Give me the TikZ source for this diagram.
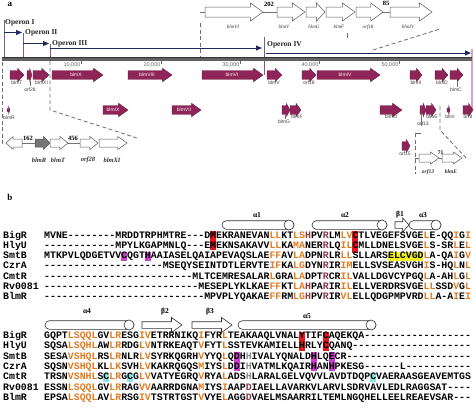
\documentclass[tikz,border=0pt]{standalone}
\usepackage{fontspec}
\setmainfont{Liberation Serif}
\setsansfont{Liberation Sans}
\setmonofont{Liberation Mono}
\usetikzlibrary{arrows.meta}
\definecolor{genepurple}{HTML}{8E2457}
\definecolor{operonblue}{HTML}{1C2A5E}
\definecolor{mauve}{HTML}{7C5C86}
\definecolor{lilac}{HTML}{CDA8CF}
\definecolor{zoomgray}{HTML}{6E6E6E}
\definecolor{cdsgray}{HTML}{767676}
\definecolor{resorange}{HTML}{E07B1F}
\definecolor{resmaroon}{HTML}{8B3A4A}
\definecolor{resgray}{HTML}{8A8A8A}
\definecolor{hlred}{HTML}{E5161C}
\definecolor{hlmag}{HTML}{D03CD0}
\definecolor{hlyellow}{HTML}{F2F222}
\definecolor{hlcyan}{HTML}{8AE6E6}

\newcommand{\seqfont}{\ttfamily\bfseries\fontsize{9.88}{10}\selectfont}
\newcommand{\rO}[1]{\textcolor{resorange}{#1}}
\newcommand{\rM}[1]{\textcolor{resmaroon}{#1}}
\newcommand{\rG}[1]{\textcolor{resgray}{#1}}
% gene arrow: [style] tail x, tip x, y, body half height, head half height
\newcommand{\genearrow}[6][]{%
  \pgfmathsetmacro{\gaNeck}{#3-(#3-#2)/abs(#3-#2)*min(abs(#3-#2)*0.45,1.4*#6)}%
  \draw[#1] (#2,#4-#5) -- (\gaNeck,#4-#5) -- (\gaNeck,#4-#6) -- (#3,#4)
    -- (\gaNeck,#4+#6) -- (\gaNeck,#4+#5) -- (#2,#4+#5) -- cycle;}
% highlight: colour, first column, last column, top baseline, bottom baseline
\newcommand{\hlcol}[5]{%
  \fill[#1] ({44+(#2-1)*5.929},{#4-7}) rectangle ({44+#3*5.929},{#5+2});}
% helix cylinder: x1, x2, y
\newcommand{\helix}[3]{%
  \draw[sstruct, rounded corners=4.3pt] (#1,#3-4.3) rectangle (#2,#3+4.3);
  \draw[sstruct] (#2-5,#3) circle[radius=5];}

\begin{document}
\begin{tikzpicture}[x=1pt, y=-1pt,
    gene/.style={fill=genepurple, draw=genepurple!70!black, line width=0.3pt},
    cds/.style={fill=white, draw=black!65, line width=0.5pt},
    cdsdark/.style={cds, fill=cdsgray},
    gname/.style={font=\sffamily\fontsize{5}{5}\selectfont, text=black!75, inner sep=0pt},
    ginside/.style={font=\sffamily\fontsize{5}{5}\selectfont, text=white, inner sep=0pt},
    cname/.style={font=\bfseries\itshape\fontsize{6.5}{6.5}\selectfont, text=black!80, inner sep=0pt},
    tname/.style={font=\itshape\fontsize{5}{5}\selectfont, text=black!80, inner sep=0pt},
    spacerlbl/.style={font=\bfseries\fontsize{6.5}{6.5}\selectfont, inner sep=0pt},
    opname/.style={font=\bfseries\fontsize{7.5}{7.5}\selectfont, text=black!85, anchor=west, inner sep=0pt},
    oparrow/.style={draw=operonblue, line width=0.9pt, -{Triangle[length=6pt,width=5pt]}},
    opline/.style={draw=mauve, line width=0.7pt},
    zoomline/.style={draw=zoomgray, line width=0.8pt, dash pattern=on 4pt off 2.5pt},
    linker/.style={draw=black!55, line width=0.4pt},
    ticklbl/.style={font=\sffamily\fontsize{5.5}{5.5}\selectfont, text=black!60, inner sep=0pt},
    seq/.style={anchor=base west, inner sep=0pt, font=\seqfont},
    sstruct/.style={draw=black!80, line width=0.6pt, fill=white},
    sslabel/.style={font=\bfseries\fontsize{7.5}{7.5}\selectfont, inner sep=0pt},
    panel/.style={font=\bfseries\fontsize{9}{9}\selectfont, inner sep=0pt},
]
\fill[white] (0,0) rectangle (474,410);
\useasboundingbox (0,0) rectangle (474,410);

\node[panel] (pa) at (10,4.5) {a};
\node[panel] (pb) at (10,197) {b};

% expanded cluster on top
\draw[linker] (200,12) -- (205,12);
\genearrow[cds]{205}{263}{12}{5}{9}
\draw[linker] (263,12) -- (277,12);
\genearrow[cds]{277}{305}{12}{5}{9}
\genearrow[cds]{306}{325}{12}{5}{9}
\genearrow[cds]{326}{355}{12}{5}{9}
\genearrow[cds]{356}{383}{12}{5}{9}
\draw[linker] (383,12) -- (390,12);
\genearrow[cds]{390}{432}{12}{5}{9}
\node[spacerlbl] (sp202) at (269,4) {202};
\node[spacerlbl] (sp85) at (386,3.5) {85};
\node[tname] (tVI) at (233,27) {blmVI};
\node[tname] (tV) at (284,27) {blmV};
\node[tname] (tG) at (314,27) {blmG};
\node[tname] (tF) at (339,27) {blmF};
\node[tname] (t18) at (368,27) {orf18};
\node[tname] (tIV) at (408,27) {blmIV};
\draw[linker] (347,33) -- (347,38);

% operons
\draw[opline] (4,20) -- (4,60);
\draw[opline] (23,33) -- (23,60);
\draw[opline] (50,44) -- (50,60);
\draw[opline] (264,37) -- (264,75);
\draw[oparrow] (4,32.5) -- (22,32.5);
\draw[oparrow] (23,43.5) -- (49,43.5);
\draw[oparrow] (50,48) -- (262,48);
\draw[oparrow] (266,53) -- (471,53);
\node[opname] (opI) at (5,22.5) {Operon I};
\node[opname] (opII) at (25,32.5) {Operon II};
\node[opname] (opIII) at (52,43.5) {Operon III};
\node[opname] (opIV) at (267,45) {Operon IV};
\draw[lilac, line width=2.5pt] (472,49) -- (472,111);

% zoom guides
\draw[zoomline] (200,23) -- (200,58);
\draw[zoomline] (373,50) -- (440,29);
\draw[zoomline] (2,62) -- (2,146);
\draw[zoomline] (50,61) -- (50,110) -- (137,138);
\draw[zoomline] (440,106) -- (440,130) -- (468,160);
\draw[black!60, line width=0.8pt] (421,133) -- (415,133);
\draw[zoomline] (415,133) -- (415,174);

% genome bar and scale
\draw[black!62, line width=3.6pt] (2,59) -- (472,59);
\draw[black!80, line width=0.8pt] (2,57.5) -- (472,57.5);
\foreach \xs/\lbl in {72/10,152/20,231/30,310/40,390/50} {
  \node[ticklbl] (k\lbl) at (\xs,64.5) {\lbl,000};
  \draw[black!60, line width=0.4pt] ([xshift=0.9pt,yshift=1pt]k\lbl.north east) -- ([xshift=0.9pt,yshift=-1.6pt]k\lbl.north east);
}

% genes, first row
\genearrow[gene]{10}{24}{75}{4.3}{6.7}
\genearrow[gene]{27}{32}{75}{4.3}{6.7}
\genearrow[gene]{33}{49}{75}{4.3}{6.7}
\genearrow[gene]{52}{103}{75}{4.3}{6.7}
\genearrow[gene]{128}{172}{75}{4.3}{6.7}
\genearrow[gene]{202}{263}{75}{4.3}{6.7}
\genearrow[gene]{267}{282}{75}{4.3}{6.7}
\genearrow[gene]{302}{316}{75}{4.3}{6.7}
\genearrow[gene]{317}{380}{75}{4.3}{6.7}
\genearrow[gene]{410}{422}{75}{4.3}{6.7}
\genearrow[gene]{435}{448}{75}{4.3}{6.7}
\genearrow[gene]{450}{463}{75}{4.3}{6.7}
\node[ginside] (iX) at (76,75) {blmX};
\node[ginside] (iVIII) at (147,75) {blmVIII};
\node[ginside] (iVI) at (232,75) {blmVI};
\node[ginside] (iIV) at (345,75) {blmIV};
\node[gname] (nT) at (17,83) {blmT};
\node[gname] (n28) at (30,89.5) {orf28};
\node[gname] (nXI) at (41.5,83) {blmXI};
\node[gname] (nV) at (274,83) {blmV};
\node[gname] (n18) at (309,83) {orf18};
\node[gname] (nII) at (416,83) {blmII};
\node[gname] (nD) at (442,83) {blmD};
\node[gname] (nC) at (456,90) {blmC};
\draw[linker] (30,81) -- (30,86);
\draw[linker] (457,81) -- (457,86.5);

% genes, second row
\genearrow[gene]{7}{10}{110}{1.5}{4}
\genearrow[gene]{103}{128}{110}{4.3}{6.7}
\genearrow[gene]{172}{201}{110}{4.3}{6.7}
\genearrow[gene]{282}{290}{110}{4.3}{6.7}
\genearrow[gene]{290}{301}{110}{4.3}{6.7}
\genearrow[gene]{380}{402}{110}{4.3}{6.7}
\genearrow[gene]{420}{426}{110}{4.3}{6.7}
\genearrow[gene]{426}{436}{110}{4.3}{6.7}
\genearrow[gene]{447}{450}{110}{2}{4.5}
\genearrow[gene]{463}{473}{110}{4.3}{6.7}
\genearrow[gene]{402}{410}{146}{4.3}{6.7}
\node[ginside] (iIX) at (113,110) {blmIX};
\node[ginside] (iVII) at (184,110) {blmVII};
\node[gname] (nR) at (9,118) {blmR};
\node[gname] (nF) at (297,117) {blmF};
\node[gname] (nG) at (284,122) {blmG};
\node[gname] (nIII) at (391,117) {blmIII};
\node[gname] (nE) at (432,117) {blmE};
\node[gname] (nI) at (450,117) {blmI};
\node[gname] (n8) at (468,117) {orf8};
\node[gname] (n13) at (423,124) {orf13};
\node[gname] (n15) at (405,154) {orf15};
\draw[linker] (285,114.5) -- (285,118.5);
\draw[linker] (421,113) -- (421,126);

% expanded cluster, lower left
\genearrow[cds]{22}{6}{143}{4}{6.5}
\draw[linker] (22,143) -- (35,143);
\genearrow[cdsdark]{35}{50}{143}{4}{6.5}
\genearrow[cds]{50}{68}{143}{4}{6.5}
\draw[linker] (68,143) -- (80,143);
\genearrow[cds]{80}{98}{143}{4}{6.5}
\genearrow[cds]{99}{127}{143}{4}{6.5}
\node[spacerlbl] (sp162) at (28,138.5) {162};
\node[spacerlbl] (sp456) at (73,138.5) {456};
\node[cname] (cR) at (39,160) {blmR};
\node[cname] (cT) at (58,160) {blmT};
\node[cname] (c28) at (88,160) {orf28};
\node[cname] (cXI) at (112,160) {blmXI};

% expanded cluster, lower right
\draw[linker] (415,158) -- (419,158);
\genearrow[cds]{419}{439}{158}{4}{6}
\draw[linker] (439,158) -- (442,158);
\genearrow[cds]{442}{462}{158}{4}{6}
\node[spacerlbl, font=\bfseries\fontsize{5.5}{5.5}\selectfont] (sp71) at (440.5,153) {71};
\node[cname, font=\bfseries\itshape\fontsize{5.5}{5.5}\selectfont] (c13) at (428,172) {orf13};
\node[cname, font=\bfseries\itshape\fontsize{5.5}{5.5}\selectfont] (cE) at (451,172) {blmE};

% secondary structure
\helix{222}{294}{225}
\helix{312}{387}{225}
\genearrow[sstruct]{395}{409}{225}{3.3}{7}
\helix{409}{441}{225}
\node[sslabel] (a1) at (257,215) {α1};
\node[sslabel] (a2) at (345,215) {α2};
\node[sslabel] (b1) at (400,215) {β1};
\node[sslabel] (a3) at (423,215) {α3};
\helix{45}{134}{325}
\genearrow[sstruct]{142}{182}{325}{3.3}{7.5}
\genearrow[sstruct]{192}{232}{325}{3.3}{7.5}
\helix{238}{376}{325}
\node[sslabel] (a4) at (87,311.5) {α4};
\node[sslabel] (b2) at (165,311.5) {β2};
\node[sslabel] (b3) at (210,311.5) {β3};
\node[sslabel] (a5) at (307,316.5) {α5};

% highlighted residues
\hlcol{hlred}{29}{29}{238}{248.3}
\hlcol{hlmag}{14}{14}{258.6}{258.6}
\hlcol{hlmag}{18}{18}{258.6}{258.6}
\hlcol{hlred}{53}{53}{238}{251}
\hlcol{hlyellow}{59}{64}{258.6}{258.6}
\hlcol{hlred}{44}{44}{338.5}{348.8}
\hlcol{hlred}{48}{48}{338.5}{348.8}
\hlcol{hlmag}{33}{33}{359.1}{369.4}
\hlcol{hlmag}{46}{46}{359.1}{369.4}
\hlcol{hlmag}{49}{49}{359.1}{369.4}
\hlcol{hlcyan}{11}{11}{379.7}{379.7}
\hlcol{hlcyan}{15}{15}{379.7}{379.7}
\hlcol{hlcyan}{56}{56}{379.7}{379.7}

% alignment
\foreach \nm [count=\i] in {BigR,HlyU,SmtB,CzrA,CmtR,Rv0081,BlmR} {
  \node[seq] (nameA\i) at (3,{238+(\i-1)*10.3}) {\nm};
  \node[seq] (nameB\i) at (3,{338.5+(\i-1)*10.3}) {\nm};
}
\node[seq] (bigrA) at (44,238) {MVNE--------MRDDTRPHMTRE---DMEKRANEVAN\rO{LL}KT\rO{LS}\rM{H}PV\rM{R}LM\rO{LV}CTLVEGEFSVGE\rO{L}E-QQ\rO{I}G\rO{I}};
\node[seq] (hlyuA) at (44,248.3) {------------MPYLKGAPMNLQ---EMEKNSAKAVV\rO{LL}KA\rO{MA}NER\rM{R}LQ\rO{IL}CMLLDNELSVGE\rO{L}S-SR\rO{L}E\rO{L}};
\node[seq] (smtbA) at (44,258.6) {MTKPVLQDGETVVCQGTHAAIASELQAIAPEVAQSLAE\rO{FF}AV\rO{LA}DPN\rM{R}LR\rO{LL}SLLARSELCVGD\rO{L}A-QA\rO{I}G\rO{V}};
\node[seq] (czraA) at (44,268.9) {--------------------MSEQYSEINTDTLERVTE\rO{IF}KA\rO{LG}DYN\rM{R}IR\rO{IM}ELLSVSEASVGH\rO{I}S-HQ\rO{L}N\rO{L}};
\node[seq] (cmtrA) at (44,279.2) {-------------------------MLTCEMRESALAR\rO{L}GRA\rO{LA}DPT\rM{R}CR\rO{IL}VALLDGVCYPGQ\rO{L}A-AH\rO{L}G\rO{L}};
\node[seq] (rvA) at (44,289.5) {--------------------------MESEPLYKLKAE\rO{FF}KT\rO{LA}\rM{H}PA\rM{R}IR\rO{IL}ELLVERDRSVGE\rO{LL}SSD\rO{V}G\rO{L}};
\node[seq] (blmrA) at (44,299.8) {---------------------------MPVPLYQAKAE\rO{FF}RM\rO{LG}\rM{H}PV\rM{R}IR\rO{VL}ELLQDGPMPVRD\rO{LL}A-A\rO{I}E\rO{I}};
\node[seq] (bigrB) at (44,338.5) {GQPT\rO{LSQQL}GV\rO{LR}ESG\rO{IV}ETRRNIKQ\rO{I}FYR\rO{L}TEAKAAQLVNALYTIFCAQEKQA------------------};
\node[seq] (hlyuB) at (44,348.8) {SQSA\rO{LSQHL}AW\rO{LR}RDG\rO{LV}NTRKEAQT\rO{V}FYT\rO{L}SSTEVKAMIELLHRLYCQANQ--------------------};
\node[seq] (smtbB) at (44,359.1) {SESA\rO{VSHQL}RS\rO{LR}NLR\rO{LV}SYRKQGRH\rO{V}YYQ\rO{L}QDH\rG{H}IVALYQNALDHLQECR---------------------};
\node[seq] (czraB) at (44,369.4) {SQSN\rO{VSHQL}KL\rO{LK}SVH\rO{LV}KAKRQGQS\rO{M}IYS\rO{L}DDI\rG{H}VATMLKQAIRHANHPKESG------L-----------};
\node[seq] (cmtrB) at (44,379.7) {TRSN\rO{VSNHL}SC\rO{LR}GCG\rO{LV}VATYEGRQ\rO{V}RYA\rO{L}ADS\rG{H}LARALGELVQVVLAVDTDQPCVAERAASGEAVEMTGS};
\node[seq] (rvB) at (44,390) {ESSN\rO{LSQQL}GV\rO{LR}RAG\rO{VV}AARRDGNA\rO{M}IYS\rO{I}AAP\rM{D}IAELLAVARKVLARVLSDRVAVLEDLRAGGSAT----};
\node[seq] (blmrB) at (44,400.3) {EPSA\rO{LSQQL}AV\rO{LR}RSG\rO{IV}TSTRTGST\rO{V}VYE\rO{L}AGG\rM{D}VAELMSAARRILTEMLNGQHELLEELREAEVSAR---};

\end{tikzpicture}
\end{document}
